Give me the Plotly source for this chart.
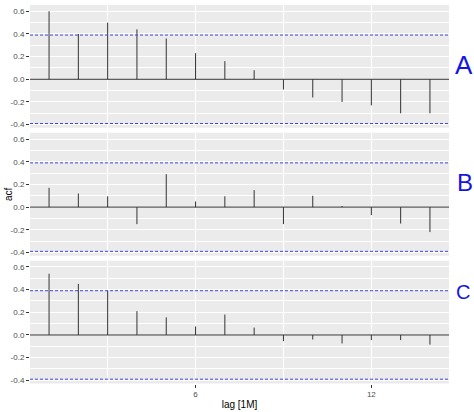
import plotly.graph_objects as go

lags = list(range(1, 15))
acf_a = [0.60, 0.40, 0.50, 0.44, 0.36, 0.23, 0.16, 0.08, -0.09, -0.16, -0.20, -0.23, -0.30, -0.30]
acf_b = [0.17, 0.12, 0.095, -0.15, 0.29, 0.05, 0.095, 0.15, -0.15, 0.10, 0.01, -0.07, -0.145, -0.22]
acf_c = [0.54, 0.45, 0.39, 0.21, 0.155, 0.075, 0.18, 0.065, -0.055, -0.04, -0.075, -0.045, -0.045, -0.085]
ci = 0.39
panel_labels = ["A", "B", "C"]
y_ticks = [-0.4, -0.2, 0.0, 0.2, 0.4, 0.6]
y_tick_text = ["-0.4", "-0.2", "0.0", "0.2", "0.4", "0.6"]
x_ticks = [6, 12]

series = [acf_a, acf_b, acf_c]

W, H = 474, 412
left, right, top, bottom = 30, 449, 5, 383.5
gap = 5
ph = (bottom - top - 2 * gap) / 3
label_pos = [(464, 65, 26), (465, 182, 24), (463, 292, 20)]

fig = go.Figure()
layout = dict(
    width=W, height=H,
    margin=dict(l=0, r=0, t=0, b=0, autoexpand=False),
    paper_bgcolor="white", plot_bgcolor="white",
    showlegend=False,
)

xdom = [left / W, right / W]
shapes = []
annotations = []
for i, vals in enumerate(series):
    n = i + 1
    xa = "x" if n == 1 else f"x{n}"
    ya = "y" if n == 1 else f"y{n}"
    ptop = top + i * (ph + gap)
    pbot = ptop + ph
    ydom = [1 - pbot / H, 1 - ptop / H]
    xs, ys = [], []
    for lag, v in zip(lags, vals):
        xs += [lag, lag, None]
        ys += [0, v, None]
    shapes.append(dict(type="rect", xref=f"{xa} domain", yref=f"{ya} domain",
                       x0=0, x1=1, y0=0, y1=1, fillcolor="#EBEBEB", line=dict(width=0), layer="below"))
    fig.add_trace(go.Scatter(x=[0.35, 14.65], y=[0, 0], mode="lines",
                             line=dict(color="#333333", width=1), xaxis=xa, yaxis=ya, hoverinfo="skip"))
    fig.add_trace(go.Scatter(x=xs, y=ys, mode="lines", line=dict(color="#333333", width=1),
                             xaxis=xa, yaxis=ya, hoverinfo="skip"))
    for c in (ci, -ci):
        fig.add_trace(go.Scatter(x=[0.35, 14.65], y=[c, c], mode="lines",
                                 line=dict(color="#4444DD", width=1, dash="3px,2px"),
                                 xaxis=xa, yaxis=ya, hoverinfo="skip"))
    last = (n == 3)
    layout["xaxis" if n == 1 else f"xaxis{n}"] = dict(
        domain=xdom, anchor=ya, range=[0.35, 14.65],
        tickvals=x_ticks, ticktext=[str(t) for t in x_ticks],
        showticklabels=last, ticks="outside" if last else "", ticklen=3, tickcolor="#333333",
        tickfont=dict(family="Liberation Sans", size=8, color="#4D4D4D"),
        showgrid=True, gridcolor="white", gridwidth=1.1,
        minor=dict(tickvals=[3, 9], showgrid=True, gridcolor="white", gridwidth=0.5),
        zeroline=False, showline=False, automargin=False,
        title=dict(text="lag [1M]", font=dict(family="Liberation Sans", size=10, color="black"), standoff=2) if last else None,
    )
    layout["yaxis" if n == 1 else f"yaxis{n}"] = dict(
        domain=ydom, anchor=xa, range=[-0.428, 0.655],
        tickvals=y_ticks, ticktext=y_tick_text, ticks="outside", ticklen=3, tickcolor="#333333",
        tickfont=dict(family="Liberation Sans", size=8, color="#4D4D4D"),
        showgrid=True, gridcolor="white", gridwidth=1.1,
        minor=dict(tickvals=[-0.3, -0.1, 0.1, 0.3, 0.5], showgrid=True, gridcolor="white", gridwidth=0.5),
        zeroline=False, showline=False, automargin=False,
    )
    lx, ly, ls = label_pos[i]
    annotations.append(dict(text=panel_labels[i], xref="paper", yref="paper",
                            x=lx / W, y=1 - ly / H, xanchor="center", yanchor="middle",
                            showarrow=False, font=dict(family="Liberation Sans", size=ls, color="#1515E0")))

annotations.append(dict(text="acf", xref="paper", yref="paper", x=8 / W, y=1 - 194 / H,
                        xanchor="center", yanchor="middle",
                        textangle=-90, showarrow=False,
                        font=dict(family="Liberation Sans", size=10, color="black")))
layout["shapes"] = shapes
layout["annotations"] = annotations
fig.update_layout(**layout)
fig.write_html("out.html", config={"displayModeBar": False},
               post_script="document.body.style.margin='0';document.body.style.overflow='hidden';")
